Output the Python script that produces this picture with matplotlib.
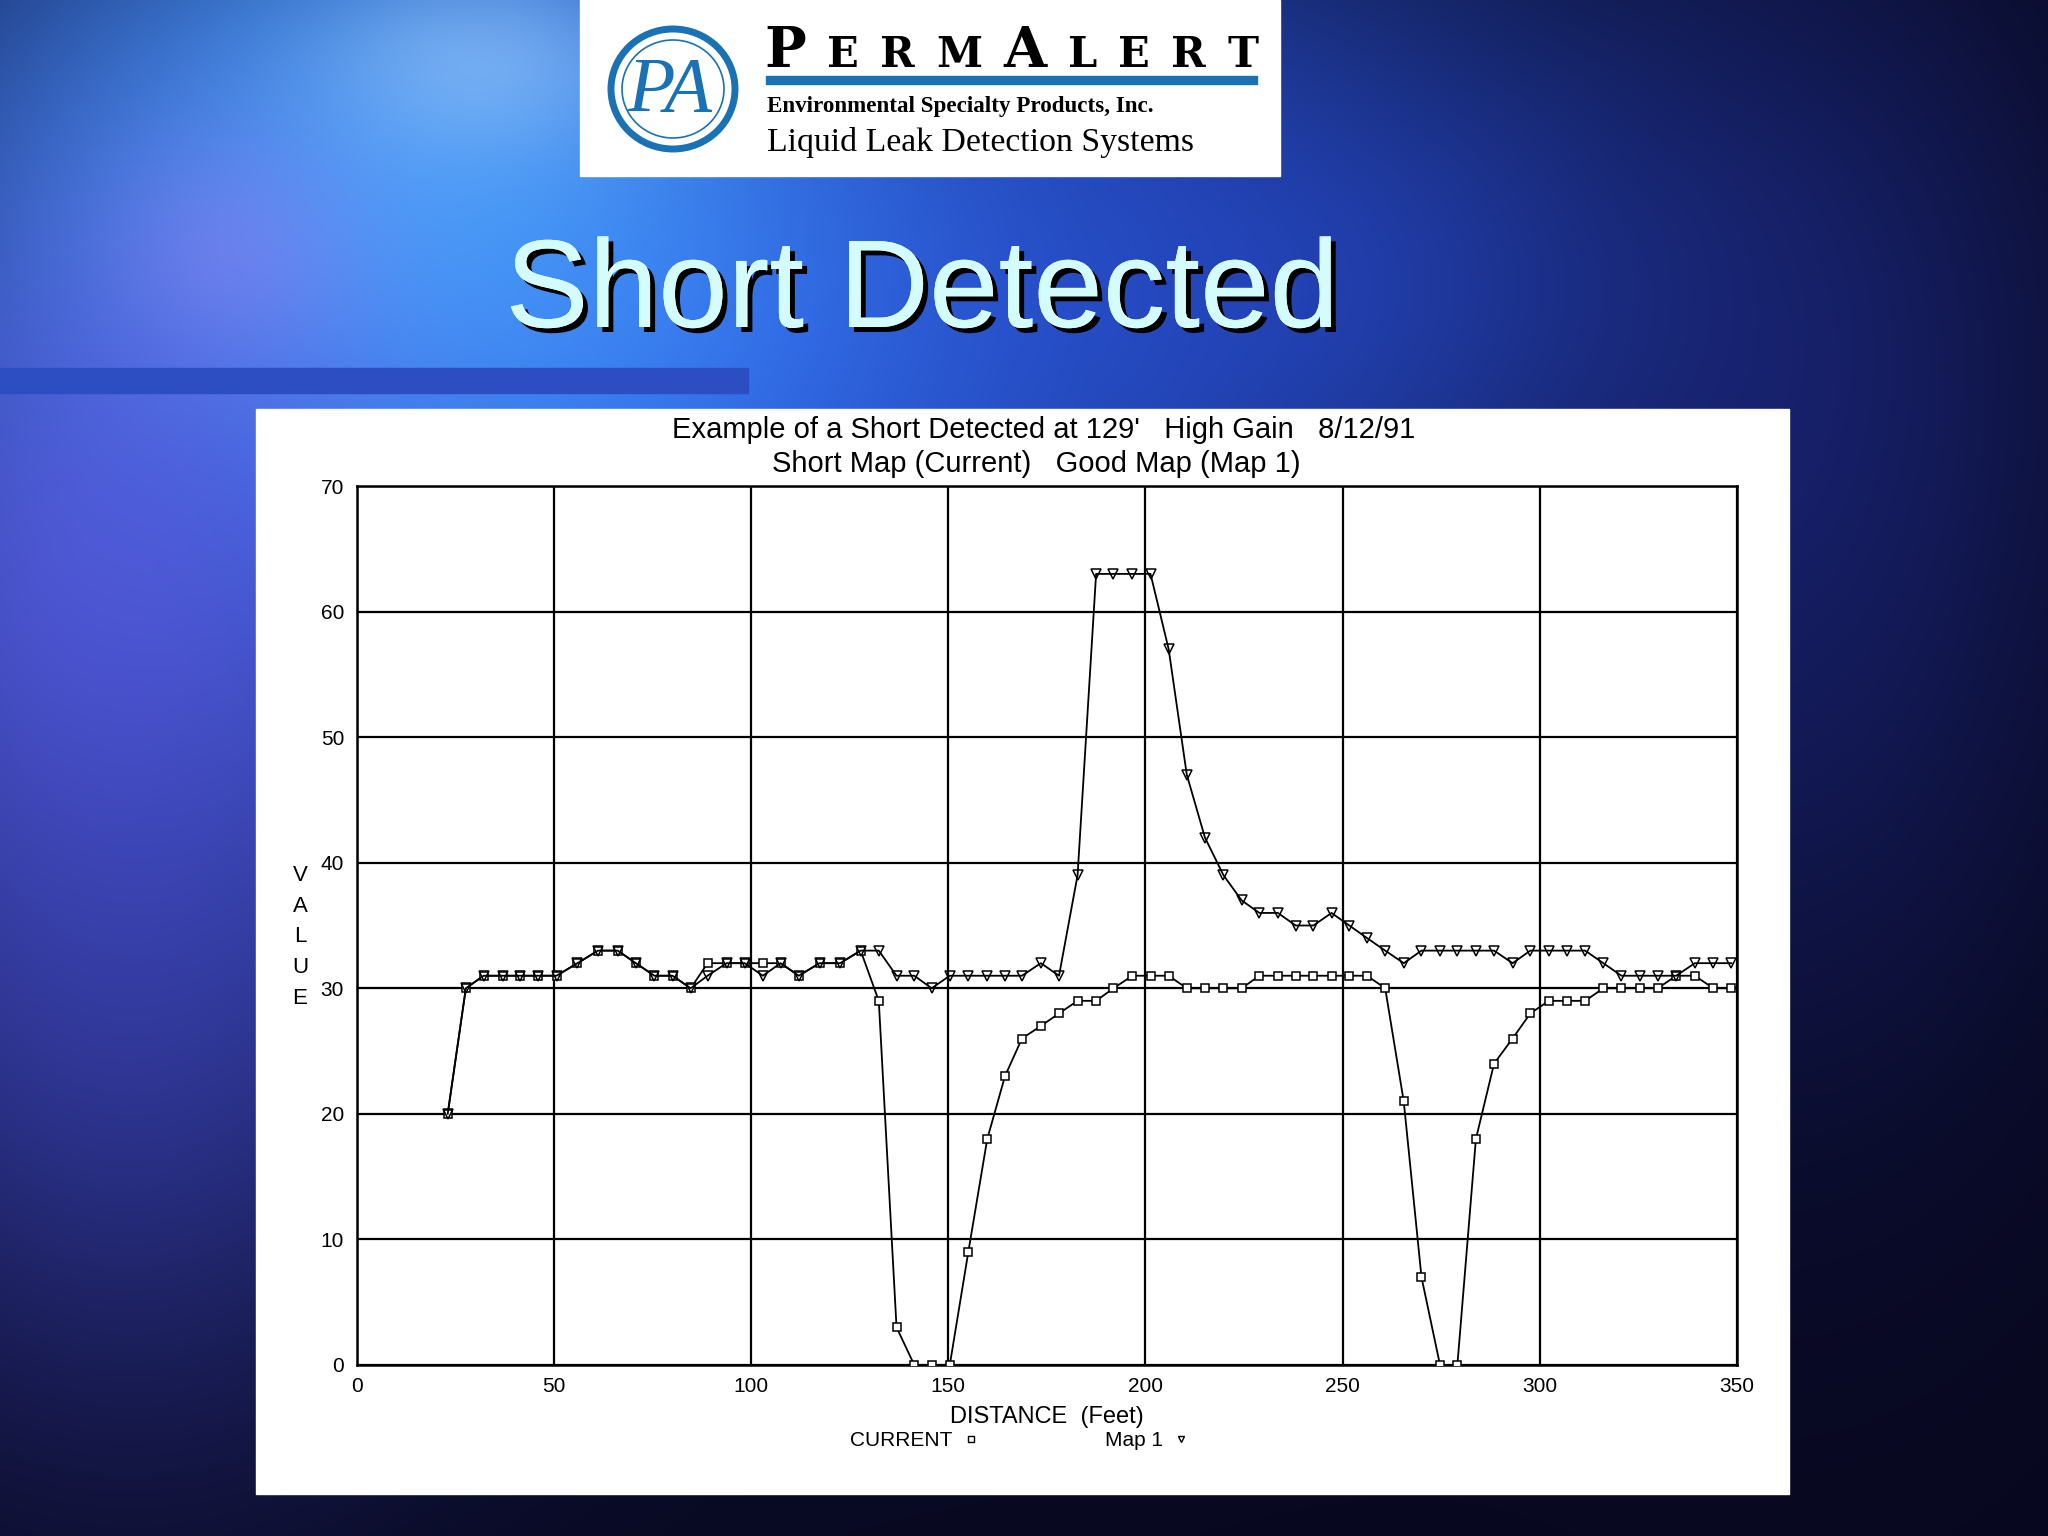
import numpy as np
import matplotlib.pyplot as plt
import matplotlib.patheffects as pe
from matplotlib.patches import Rectangle, Ellipse
from matplotlib.lines import Line2D

plt.rcParams['font.family'] = ['Liberation Sans', 'DejaVu Sans']

# sample positions along the cable (feet)
distance = [23.1, 27.7, 32.2, 37.0, 41.4, 45.9, 50.7, 56.0, 61.2, 66.2,
            70.8, 75.5, 80.1, 84.7, 89.0, 93.8, 98.4, 103.0, 107.5, 112.1,
            117.4, 122.6, 127.8, 132.4, 136.9, 141.4, 145.8, 150.4, 155.1, 159.9,
            164.4, 168.7, 173.5, 178.1, 182.8, 187.5, 191.9, 196.7, 201.3, 205.9,
            210.5, 215.1, 219.8, 224.4, 228.9, 233.6, 238.1, 242.6, 247.2, 251.7,
            256.2, 260.8, 265.5, 270.0, 274.7, 279.1, 283.8, 288.4, 293.1, 297.6,
            302.3, 307.0, 311.5, 316.1, 320.7, 325.4, 329.9, 334.6, 339.3, 344.0, 348.6]

# short map (CURRENT)
current = [20, 30, 31, 31, 31, 31, 31, 32, 33, 33,
           32, 31, 31, 30, 32, 32, 32, 32, 32, 31,
           32, 32, 33, 29, 3, 0, 0, 0, 9, 18,
           23, 26, 27, 28, 29, 29, 30, 31, 31, 31,
           30, 30, 30, 30, 31, 31, 31, 31, 31, 31,
           31, 30, 21, 7, 0, 0, 18, 24, 26, 28,
           29, 29, 29, 30, 30, 30, 30, 31, 31, 30, 30]

# good map (Map 1)
map1 = [20, 30, 31, 31, 31, 31, 31, 32, 33, 33,
        32, 31, 31, 30, 31, 32, 32, 31, 32, 31,
        32, 32, 33, 33, 31, 31, 30, 31, 31, 31,
        31, 31, 32, 31, 39, 63, 63, 63, 63, 57,
        47, 42, 39, 37, 36, 36, 35, 35, 36, 35,
        34, 33, 32, 33, 33, 33, 33, 33, 32, 33,
        33, 33, 33, 32, 31, 31, 31, 31, 32, 32, 32]

x_ticks = [0, 50, 100, 150, 200, 250, 300, 350]
y_ticks = [0, 10, 20, 30, 40, 50, 60, 70]

W, H = 2048, 1536
fig = plt.figure(figsize=(W / 100, H / 100), dpi=100)

# slide canvas in pixel coordinates
bg = fig.add_axes([0, 0, 1, 1])
bg.axis('off')

# soft cloudy backdrop
gy, gx = np.mgrid[0:H:4, 0:W:4]
img = np.ones(gy.shape + (3,)) * np.array([0.03, 0.03, 0.12])
blobs = [
    (600, 330, 560, 420, (0.18, 0.40, 0.95), 0.95),
    (1250, 280, 350, 200, (0.16, 0.30, 0.85), 0.60),
    (1800, 500, 200, 400, (0.12, 0.16, 0.55), 0.50),
    (380, 200, 280, 220, (0.30, 0.68, 1.00), 0.80),
    (480, 60, 120, 70, (0.70, 0.85, 1.00), 0.45),
    (100, 600, 200, 280, (0.40, 0.40, 0.95), 0.70),
    (230, 250, 90, 80, (0.65, 0.50, 0.95), 0.35),
    (120, 1000, 250, 320, (0.25, 0.28, 0.78), 0.55),
]
for cx, cy, sx, sy, col, a in blobs:
    w = a * np.exp(-(((gx - cx) / sx) ** 2 + ((gy - cy) / sy) ** 2) / 2)
    img = img * (1 - w[..., None]) + np.array(col) * w[..., None]
bg.imshow(img, extent=(0, W, H, 0), interpolation='bilinear', aspect='auto', zorder=0)
bg.set_xlim(0, W)
bg.set_ylim(H, 0)

# blue bar under the title, white chart panel, logo box
bg.add_patch(Rectangle((0, 368), 748, 25, color='#2d4ec2', zorder=1))
bg.add_patch(Rectangle((256, 409), 1533, 1085, color='white', zorder=1))
bg.add_patch(Rectangle((580, 0), 700, 176, color='white', zorder=1))

# slide title with drop shadow
bg.text(922, 327, 'Short Detected', fontsize=90, color='#d4fcfc', ha='center', va='baseline', zorder=3,
        path_effects=[pe.withSimplePatchShadow(offset=(3.6, -3.6), shadow_rgbFace='black', alpha=1.0),
                      pe.Normal()])

# logo
logo_blue = '#1a72b4'
bg.add_patch(Ellipse((673, 89), 124, 120, fill=False, ec=logo_blue, lw=5, zorder=2))
bg.add_patch(Ellipse((673, 89), 102, 98, fill=False, ec=logo_blue, lw=1.2, zorder=2))
bg.text(670, 92, 'PA', fontsize=56, style='italic', family='Liberation Serif',
        color=logo_blue, ha='center', va='center', zorder=3)

renderer = fig.canvas.get_renderer()
letters = [('P', 40), ('E', 30), ('R', 30), ('M', 30), ('A', 40),
           ('L', 30), ('E', 30), ('R', 30), ('T', 30)]
objs = [bg.text(0, 67, ch, fontsize=fs, fontweight='bold', family='DejaVu Serif',
                color='black', va='baseline', zorder=3) for ch, fs in letters]
widths = [t.get_window_extent(renderer).width for t in objs]
gap = (1258 - 764 - sum(widths)) / (len(objs) - 1)
x = 764
for t, w in zip(objs, widths):
    t.set_x(x)
    x += w + gap
bg.add_patch(Rectangle((766, 76), 491, 8, color=logo_blue, zorder=2))


def fit_width(t, target):
    w = t.get_window_extent(renderer).width
    t.set_fontsize(t.get_fontsize() * target / w)


t1 = bg.text(767, 112, 'Environmental Specialty Products, Inc.', fontsize=18,
             fontweight='bold', family='Liberation Serif', va='baseline', zorder=3)
fit_width(t1, 386)
t2 = bg.text(767, 151, 'Liquid Leak Detection Systems', fontsize=22,
             family='Liberation Serif', va='baseline', zorder=3)
fit_width(t2, 425)

# chart titles
bg.text(1044, 438, "Example of a Short Detected at 129'   High Gain   8/12/91",
        fontsize=21, ha='center', va='baseline', zorder=3)
bg.text(1036, 472, 'Short Map (Current)   Good Map (Map 1)',
        fontsize=21, ha='center', va='baseline', zorder=3)

# the chart
left, right, top, bottom = 356.6, 1737, 486, 1365
ax = fig.add_axes([left / W, 1 - bottom / H, (right - left) / W, (bottom - top) / H])
ax.set_facecolor('white')
ax.plot(distance, current, color='black', lw=1.3, marker='s', ms=6,
        mfc='white', mec='black', mew=1.1, zorder=3)
ax.plot(distance, map1, color='black', lw=1.3, marker='v', ms=6.5,
        mfc='none', mec='black', mew=1.1, zorder=4)

ax.set_xlim(0, 350)
ax.set_ylim(0, 70)
ax.set_xticks(x_ticks)
ax.set_yticks(y_ticks)
ax.grid(True, color='black', lw=1.6)
ax.set_axisbelow(True)
for s in ax.spines.values():
    s.set_color('black')
    s.set_linewidth(1.8)
ax.tick_params(length=0, labelsize=15, pad=9, colors='black')

ax.set_xlabel('DISTANCE  (Feet)', fontsize=17, labelpad=7)
ax.set_ylabel('V\nA\nL\nU\nE', fontsize=16, rotation=0, ha='center', va='center', linespacing=1.6)
ax.yaxis.set_label_coords(-0.041, 0.487)

handles = [Line2D([], [], ls='none', marker='s', ms=4, mfc='white', mec='black', mew=1),
           Line2D([], [], ls='none', marker='v', ms=4.5, mfc='white', mec='black', mew=1)]
fig.legend(handles, ['CURRENT', 'Map 1'], loc='center', ncol=2, frameon=False,
           markerfirst=False, fontsize=15, handlelength=0.8, handletextpad=0.5,
           columnspacing=6.0, bbox_to_anchor=(1020 / W, 1 - 1441 / H))

fig.savefig('out.png', dpi=100)
